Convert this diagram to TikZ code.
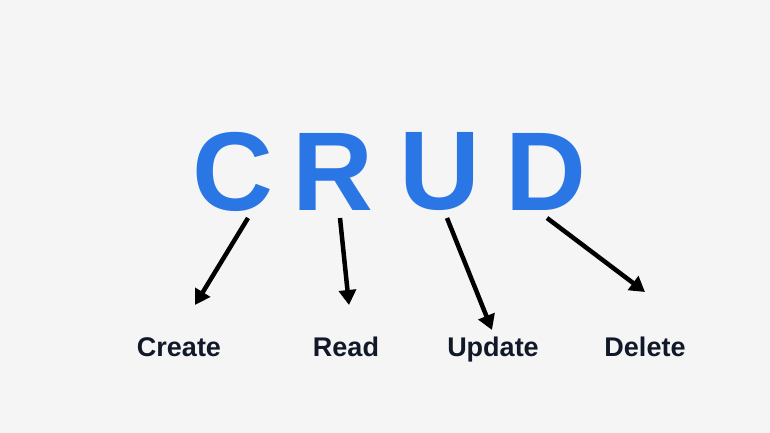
\documentclass[tikz,border=0pt]{standalone}
\usepackage{fontspec}
\setmainfont{Liberation Sans}
\usetikzlibrary{arrows.meta}
\definecolor{bg}{HTML}{F5F5F5}
\definecolor{crud}{HTML}{2B76E5}
\definecolor{lab}{HTML}{111827}
\begin{document}
\begin{tikzpicture}[x=1pt,y=-1pt,
  big/.style={font=\fontsize{112}{112}\selectfont\bfseries, text=crud, inner sep=0},
  lbl/.style={font=\fontsize{27}{27}\selectfont\bfseries, text=lab, inner sep=0, anchor=base},
  arr/.style={line width=4.5pt, -{Triangle[length=15pt,width=17pt]}}]
\fill[bg] (0,0) rectangle (770,433);
\useasboundingbox (0,0) rectangle (770,433);
\node[big] (c) at (233,172) {C};
\node[big] (r) at (333,172) {R};
\node[big] (u) at (440,172) {U};
\node[big] (d) at (546,172) {D};
\node[lbl] (create) at (179,356) {Create};
\node[lbl] (read) at (346,356) {Read};
\node[lbl] (update) at (493,356) {Update};
\node[lbl] (delete) at (645,356) {Delete};
\coordinate (c1) at (248,218); \coordinate (c2) at (195,305);
\coordinate (r1) at (340,218); \coordinate (r2) at (349,305);
\coordinate (u1) at (447,218); \coordinate (u2) at (492,330);
\coordinate (d1) at (547,218); \coordinate (d2) at (645,292);
\draw[arr] (c1) -- (c2);
\draw[arr] (r1) -- (r2);
\draw[arr] (u1) -- (u2);
\draw[arr] (d1) -- (d2);
\end{tikzpicture}
\end{document}
